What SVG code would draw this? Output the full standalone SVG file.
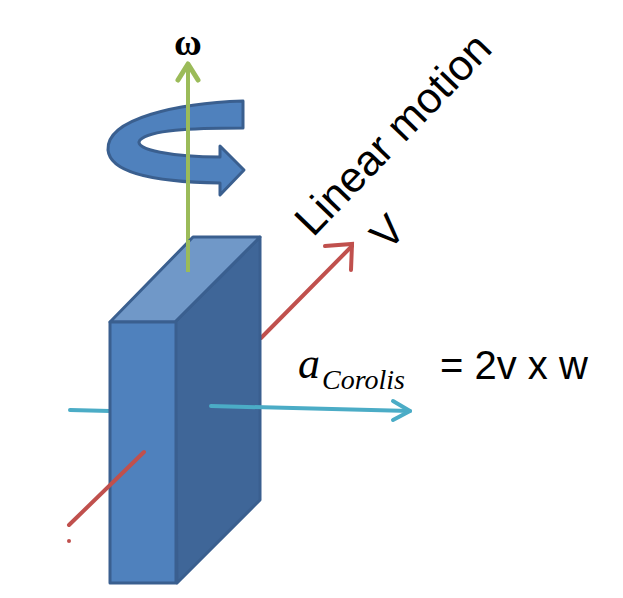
<svg xmlns="http://www.w3.org/2000/svg" width="623" height="598" viewBox="0 0 623 598">
<style>
.edge{stroke:#3a5f8f;stroke-width:3;stroke-linejoin:round}
.t{font-family:"Liberation Sans",Arial,sans-serif;fill:#000}
</style>
<rect width="623" height="598" fill="#fff"/>
<g id="connectors" fill="none" stroke-linecap="round">
<line x1="70" y1="410" x2="110" y2="411" stroke="#4bacc6" stroke-width="4"/>
<line x1="261" y1="338" x2="352" y2="246" stroke="#c0504d" stroke-width="4"/>
<path d="M325,246 L352,244 L351,270" stroke="#c0504d" stroke-width="4"/>
</g>
<g id="rotation">
<path d="M243,101 L243,128 C190,128 150,130 140,140 C132,150 175,157 220,157 L220,146 L244,170 L220,195 L220,183 C150,182 110,172 108,150 C106,118 180,103 243,101 Z" fill="#4f81bd" stroke="#3a5f8f" stroke-width="3" stroke-linejoin="round"/>
</g>
<g id="omega-axis">
<line x1="188" y1="272" x2="188" y2="64" stroke="#9bbb59" stroke-width="4"/>
<path d="M178,80 L188,64 L198,80" fill="none" stroke="#9bbb59" stroke-width="5" stroke-linecap="round" stroke-linejoin="round"/>
<text x="188" y="55" font-size="38" font-weight="bold" text-anchor="middle" font-family="Liberation Serif,serif">ω</text>
</g>
<g id="block">
<polygon points="175,322 260,237 260,500 177,583" fill="#3f6698" class="edge"/>
<polygon points="110,322 193,237 260,237 175,322" fill="#7098c8" class="edge"/>
<rect x="110" y="322" width="66" height="261" fill="#4f81bd" class="edge"/>
<line x1="188" y1="240" x2="188" y2="272" stroke="#9bbb59" stroke-width="4"/>
</g>
<g id="front-lines" fill="none" stroke-linecap="round">
<line x1="69" y1="525" x2="144" y2="452" stroke="#c0504d" stroke-width="4"/>
<circle cx="69" cy="541" r="2" fill="#c0504d" stroke="none"/>
<line x1="211" y1="406" x2="410" y2="411" stroke="#4bacc6" stroke-width="4"/>
<path d="M393,401 L410,411 L393,420" stroke="#4bacc6" stroke-width="4" stroke-linejoin="round"/>
</g>
<g id="labels">
<text class="t" font-size="43" transform="translate(313,238) rotate(-46)">Linear motion</text>
<text class="t" font-size="42" transform="translate(388,252) rotate(-46)">V</text>
<text x="298" y="378" font-size="44" font-style="italic" font-family="Liberation Serif,serif">a</text>
<text x="322" y="389" font-size="28" font-style="italic" font-family="Liberation Serif,serif">Corolis</text>
<text class="t" x="440" y="379" font-size="40">= 2v x w</text>
</g>
</svg>
